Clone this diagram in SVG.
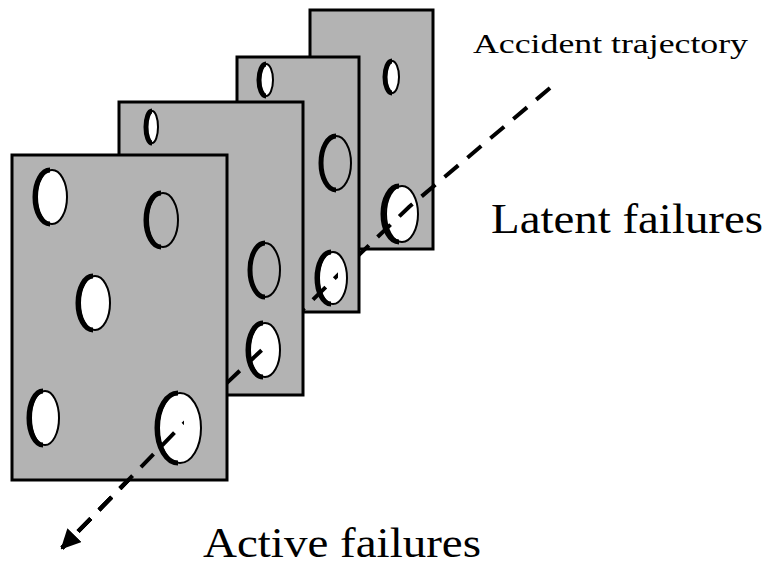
<svg xmlns="http://www.w3.org/2000/svg" width="773" height="588" viewBox="0 0 773 588">
<style>
.p{fill:#b3b3b3;stroke:#000;stroke-width:3}
.h{fill:#fff;stroke:#000;stroke-width:2}
.g{fill:#b3b3b3;stroke:#000;stroke-width:2}
.e{fill:none;stroke:#000;stroke-width:5}
.t{stroke:#000;stroke-width:4;stroke-dasharray:18 12;fill:none}
text{font-family:"Liberation Serif",serif;fill:#000}
</style>
<defs>
<clipPath id="c3"><rect x="0" y="0" width="338" height="588"/></clipPath>
<clipPath id="c2"><rect x="0" y="0" width="268" height="588"/></clipPath>
<clipPath id="c1"><rect x="0" y="0" width="184" height="588"/></clipPath>
<marker id="a" viewBox="0 0 10 10" refX="9" refY="5" markerWidth="5" markerHeight="5" orient="auto"><path d="M0,0L10,5L0,10z" fill="#000"/></marker>
</defs>
<g id="slice4">
<rect class="p" x="310" y="10" width="123" height="239"/>
<ellipse class="h" cx="392" cy="77" rx="7" ry="16"/><path class="e" d="M392,61A7,16 0 0 0 392,93"/>
<ellipse class="h" cx="402" cy="214" rx="16" ry="28"/><path class="e" d="M399,186A16,28 0 0 0 399,242"/>
</g>
<g id="connectors-a"><path class="t" d="M550,88L409,207L340,273L265,347L180,427L62,548"/></g>
<g id="slice3">
<rect class="p" x="237" y="57" width="122" height="255"/>
<ellipse class="h" cx="266" cy="80" rx="7" ry="16"/><path class="e" d="M266,64A7,16 0 0 0 266,96"/>
<ellipse class="g" cx="336" cy="163" rx="15" ry="27"/><path class="e" d="M336,136A15,27 0 0 0 336,190"/>
<ellipse class="h" cx="333" cy="278" rx="14" ry="26"/><path class="e" d="M331,252A14,26 0 0 0 331,304"/>
</g>
<g id="connectors-b" clip-path="url(#c3)"><path class="t" d="M550,88L409,207L340,273L265,347L180,427L62,548"/></g>
<g id="slice2">
<rect class="p" x="119" y="102" width="184" height="293"/>
<ellipse class="h" cx="152" cy="127" rx="6" ry="16"/><path class="e" d="M152,111A6,16 0 0 0 152,143"/>
<ellipse class="g" cx="265" cy="270" rx="15" ry="27"/><path class="e" d="M265,243A15,27 0 0 0 265,297"/>
<ellipse class="h" cx="265" cy="350" rx="15" ry="27"/><path class="e" d="M263,323A15,27 0 0 0 263,377"/>
</g>
<g id="connectors-c" clip-path="url(#c2)"><path class="t" d="M550,88L409,207L340,273L265,347L180,427L62,548"/></g>
<g id="slice1">
<rect class="p" x="12" y="155" width="215" height="325"/>
<ellipse class="h" cx="52" cy="197" rx="15" ry="27"/><path class="e" d="M50,170A15,27 0 0 0 50,224"/>
<ellipse class="g" cx="163" cy="220" rx="15" ry="27"/><path class="e" d="M161,193A15,27 0 0 0 161,247"/>
<ellipse class="h" cx="95" cy="303" rx="15" ry="27"/><path class="e" d="M93,276A15,27 0 0 0 93,330"/>
<ellipse class="h" cx="45" cy="418" rx="14" ry="27"/><path class="e" d="M43,391A14,27 0 0 0 43,445"/>
<ellipse class="h" cx="180" cy="428" rx="21" ry="35"/><path class="e" d="M178,393A21,35 0 0 0 178,463"/>
</g>
<g id="connectors-d" clip-path="url(#c1)"><path class="t" d="M550,88L409,207L340,273L265,347L180,427L62,548" marker-end="url(#a)"/></g>
<g id="labels">
<text x="473" y="53" font-size="28" textLength="275" lengthAdjust="spacingAndGlyphs">Accident trajectory</text>
<text x="491" y="233" font-size="42" textLength="272" lengthAdjust="spacingAndGlyphs">Latent failures</text>
<text x="203" y="557" font-size="42" textLength="278" lengthAdjust="spacingAndGlyphs">Active failures</text>
</g>
</svg>
